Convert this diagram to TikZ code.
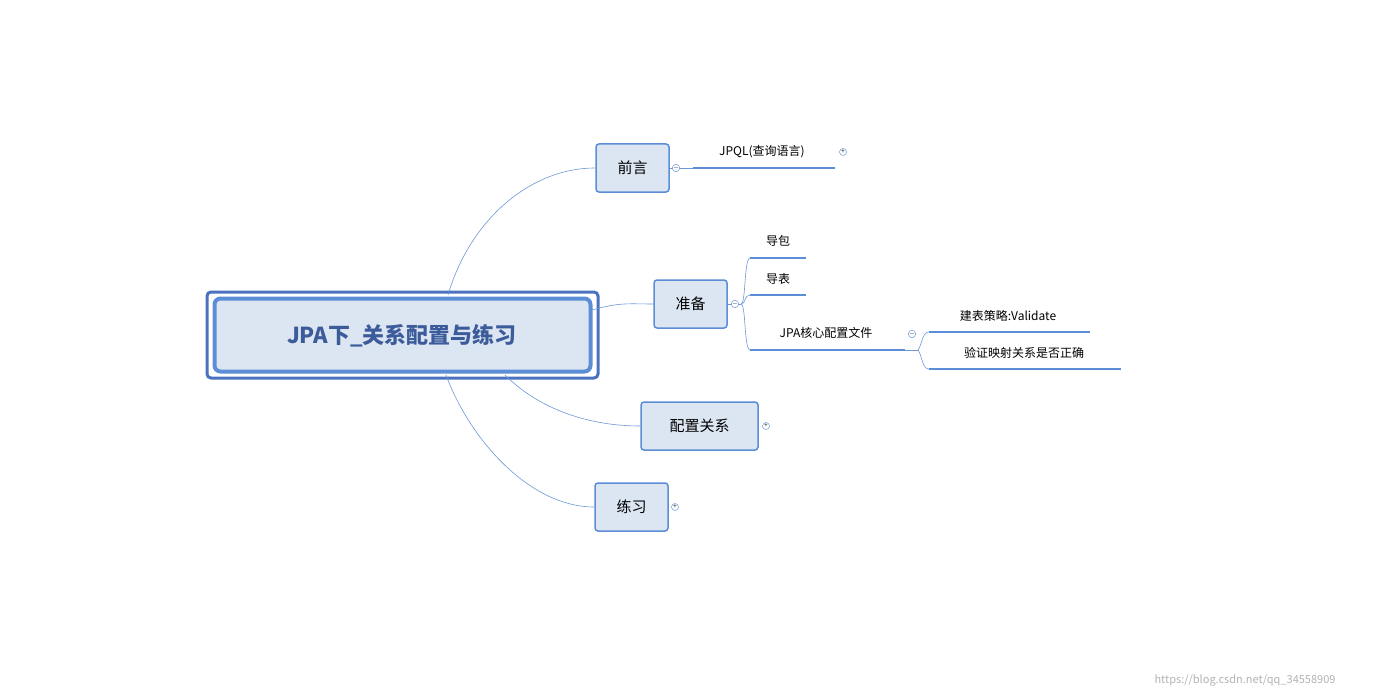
\documentclass[tikz,border=0pt]{standalone}
\usepackage{fontspec}
\setmainfont{Noto Sans CJK SC}
\begin{document}
\begin{tikzpicture}[x=1pt,y=-1pt,
  topic/.style={draw=tblue,fill=tfill,line width=1.5pt,rounded corners=3pt,inner sep=0pt,font=\fontsize{15}{15}\selectfont,text=black},
  link/.style={draw=lblue,line width=0.6pt},
  uline/.style={draw=tblue,line width=2pt},
  sub/.style={font=\fontsize{12}{12}\selectfont,inner sep=0pt},
  tog/.style={circle,draw=lblue,fill=white,minimum size=7pt,inner sep=0pt,line width=0.5pt,font=\fontsize{6}{6}\selectfont}]
\definecolor{tblue}{HTML}{5B8ED6}
\definecolor{tfill}{HTML}{DCE6F2}
\definecolor{lblue}{HTML}{6A98D8}
\definecolor{dblue}{HTML}{4A72C0}
\useasboundingbox (0,0) rectangle (1374,698);
% central
\draw[dblue,line width=3pt,rounded corners=4pt] (207,292) rectangle (598,378);
\node[draw=tblue,fill=tfill,line width=4pt,rounded corners=6pt,minimum width=376pt,minimum height=73pt] (c) at (402.5,335) {};
\node[font=\fontsize{22}{22}\selectfont\bfseries,text=dblue!80!black] (ct) at (402,336) {JPA下\_关系配置与练习};
% topics
\node[topic,minimum width=73pt,minimum height=48pt] (t1) at (632.5,168) {前言};
\node[topic,minimum width=73pt,minimum height=48pt] (t2) at (690.5,304) {准备};
\node[topic,minimum width=117pt,minimum height=48pt] (t3) at (699.5,426) {配置关系};
\node[topic,minimum width=73pt,minimum height=48pt] (t4) at (631.5,507) {练习};
\coordinate (c1) at (448,295); \coordinate (c2) at (592,310);
\coordinate (c3) at (505,375); \coordinate (c4) at (446,375);
\draw[link] (c1) .. controls (470,220) and (530,168) .. (t1.west);
\draw[link] (c2) .. controls (620,302) and (630,304) .. (t2.west);
\draw[link] (c3) .. controls (540,410) and (590,426) .. (t3.west);
\draw[link] (c4) .. controls (470,440) and (530,507) .. (t4.west);
% JPQL
\node[sub] (s1) at (762,152) {JPQL(查询语言)};
\coordinate (u1a) at (693,168); \coordinate (u1b) at (835,168);
\draw[link] (t1.east) -- (u1a);
\draw[uline] (u1a) -- (u1b);
\node[tog] (g1) at (676,168) {$-$};
\node[tog] (g5) at (843,152) {+};
% 准备 children
\coordinate (br) at (741,304);
\node[sub] (s2) at (778,241) {导包};
\node[sub] (s3) at (778,279) {导表};
\node[sub] (s4) at (826,333) {JPA核心配置文件};
\coordinate (u2a) at (750,258); \coordinate (u2b) at (806,258);
\coordinate (u3a) at (750,295); \coordinate (u3b) at (806,295);
\coordinate (u4a) at (750,350); \coordinate (u4b) at (905,350);
\draw[link] (t2.east) -- (br);
\draw[link] (br) .. controls (746,304) and (744,258) .. (u2a);
\draw[link] (br) .. controls (746,304) and (744,295) .. (u3a);
\draw[link] (br) .. controls (746,304) and (744,350) .. (u4a);
\draw[uline] (u2a) -- (u2b); \draw[uline] (u3a) -- (u3b); \draw[uline] (u4a) -- (u4b);
\node[tog] (g2) at (735,304) {$-$};
% 核心配置 children
\coordinate (br2) at (918,350);
\node[sub] (s5) at (1008,316) {建表策略:Validate};
\node[sub] (s6) at (1024,353) {验证映射关系是否正确};
\coordinate (u5a) at (929,332); \coordinate (u5b) at (1090,332);
\coordinate (u6a) at (929,369); \coordinate (u6b) at (1121,369);
\draw[link] (u4b) -- (br2);
\draw[link] (br2) .. controls (922,345) and (922,332) .. (u5a);
\draw[link] (br2) .. controls (922,355) and (922,369) .. (u6a);
\draw[uline] (u5a) -- (u5b); \draw[uline] (u6a) -- (u6b);
\node[tog] (g6) at (912,334) {$-$};
\node[tog] (g3) at (766,426) {+};
\node[tog] (g4) at (675,507) {+};
\node[font=\fontsize{11}{11}\selectfont,text=gray!60] (wm) at (1245,680) {https://blog.csdn.net/qq\_34558909};
\end{tikzpicture}
\end{document}
